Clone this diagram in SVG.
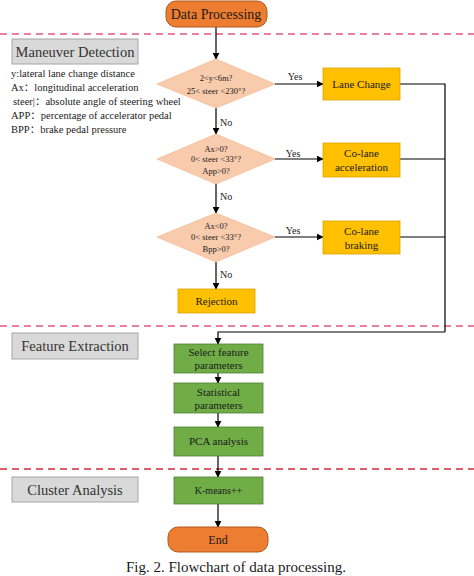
<svg xmlns="http://www.w3.org/2000/svg" width="474" height="576" viewBox="0 0 474 576">
<style>
text{font-family:"Liberation Serif","Times New Roman","Noto Sans CJK SC",serif;fill:#1a1a1a}
.c{text-anchor:middle}
.sec{fill:#d9d9d9;stroke:#a6a6a6;stroke-width:1}
.sect{font-size:14.5px;fill:#333}
.leg{font-size:10.5px}
.dia{fill:#f8cbad;stroke:#f4b183;stroke-width:0.6}
.dt{font-size:8.5px}
.gold{fill:#ffc000;stroke:#d9a300;stroke-width:0.8}
.green{fill:#70ad47;stroke:#507e32;stroke-width:0.8}
.term{fill:#ed7d31;stroke:#ae5a21;stroke-width:1}
.bt{font-size:11px}
.lbl{font-size:10px}
.ln{stroke:#000;stroke-width:1.2;fill:none}
.dash1{stroke:#e8587a;stroke-width:1.5;stroke-dasharray:7,5}
.dash2{stroke:#d42a3a;stroke-width:1.5;stroke-dasharray:7,5}
</style>
<defs>
<marker id="ah" viewBox="0 0 10 10" refX="9" refY="5" markerWidth="7" markerHeight="7" markerUnits="userSpaceOnUse" orient="auto">
<path d="M0,0 L10,5 L0,10 z" fill="#000"/>
</marker>
</defs>
<rect width="474" height="576" fill="#fff"/>

<g id="separators">
<line class="dash1" x1="0" y1="34" x2="474" y2="34"/>
<line class="dash1" x1="0" y1="326" x2="474" y2="326"/>
<line class="dash2" x1="0" y1="469" x2="474" y2="469"/>
</g>

<g id="connectors">
<line class="ln" x1="216" y1="27" x2="216" y2="59" marker-end="url(#ah)"/>
<line class="ln" x1="275" y1="84" x2="323" y2="84" marker-end="url(#ah)"/>
<line class="ln" x1="216" y1="108" x2="216" y2="134" marker-end="url(#ah)"/>
<line class="ln" x1="275" y1="159" x2="323" y2="159" marker-end="url(#ah)"/>
<line class="ln" x1="216" y1="184" x2="216" y2="213" marker-end="url(#ah)"/>
<line class="ln" x1="275" y1="237" x2="323" y2="237" marker-end="url(#ah)"/>
<line class="ln" x1="216" y1="262" x2="216" y2="289" marker-end="url(#ah)"/>
<polyline class="ln" points="400,84 445,84 445,332"/>
<line class="ln" x1="400" y1="159" x2="445" y2="159"/>
<line class="ln" x1="400" y1="237" x2="445" y2="237"/>
<polyline class="ln" points="445,332 218,332 218,344" marker-end="url(#ah)"/>
<line class="ln" x1="218" y1="373" x2="218" y2="383" marker-end="url(#ah)"/>
<line class="ln" x1="218" y1="413" x2="218" y2="427" marker-end="url(#ah)"/>
<line class="ln" x1="218" y1="456" x2="218" y2="477" marker-end="url(#ah)"/>
<line class="ln" x1="218" y1="504" x2="218" y2="527" marker-end="url(#ah)"/>
<text class="lbl" x="295" y="80" text-anchor="middle">Yes</text>
<text class="lbl" x="293" y="157" text-anchor="middle">Yes</text>
<text class="lbl" x="293" y="234" text-anchor="middle">Yes</text>
<text class="lbl" x="220" y="126">No</text>
<text class="lbl" x="220" y="200">No</text>
<text class="lbl" x="220" y="278">No</text>
</g>

<g id="start">
<rect class="term" x="166" y="1" width="101" height="26" rx="10"/>
<text class="c" x="216" y="19" font-size="14px">Data Processing</text>
</g>

<g id="sec-maneuver">
<rect class="sec" x="12" y="39" width="126" height="25"/>
<text class="c sect" x="75" y="57">Maneuver Detection</text>
</g>

<g id="legend">
<text class="leg" x="11" y="77">y:lateral lane change distance</text>
<text class="leg" x="11" y="91">Ax：longitudinal acceleration</text>
<text class="leg" x="13" y="105">steer|：absolute angle of steering wheel</text>
<text class="leg" x="11" y="119">APP：percentage of accelerator pedal</text>
<text class="leg" x="11" y="133">BPP：brake pedal pressure</text>
</g>

<g id="d1">
<polygon class="dia" points="216,59 275,84 216,108 157,84"/>
<text class="c dt" x="216" y="81">2&lt;y&lt;6m?</text>
<text class="c dt" x="216" y="94">25&lt; steer &lt;230°?</text>
</g>

<g id="lane-change">
<rect class="gold" x="323" y="68" width="77" height="32"/>
<text class="c bt" x="361.5" y="88">Lane Change</text>
</g>

<g id="d2">
<polygon class="dia" points="216,134 275,159 216,184 157,159"/>
<text class="c dt" x="216" y="152">Ax&gt;0?</text>
<text class="c dt" x="216" y="162">0&lt; steer &lt;33°?</text>
<text class="c dt" x="216" y="174">App&gt;0?</text>
</g>

<g id="co-acc">
<rect class="gold" x="323" y="143" width="77" height="34"/>
<text class="c bt" x="361.5" y="157">Co-lane</text>
<text class="c bt" x="361.5" y="171">acceleration</text>
</g>

<g id="d3">
<polygon class="dia" points="216,213 275,237 216,262 157,237"/>
<text class="c dt" x="216" y="229">Ax&lt;0?</text>
<text class="c dt" x="216" y="240">0&lt; steer &lt;33°?</text>
<text class="c dt" x="216" y="252">Bpp&gt;0?</text>
</g>

<g id="co-brake">
<rect class="gold" x="323" y="221" width="77" height="33"/>
<text class="c bt" x="361.5" y="235">Co-lane</text>
<text class="c bt" x="361.5" y="249">braking</text>
</g>

<g id="rejection">
<rect class="gold" x="178" y="289" width="77" height="24"/>
<text class="c bt" x="216.5" y="305">Rejection</text>
</g>

<g id="sec-feature">
<rect class="sec" x="12" y="333" width="126" height="26"/>
<text class="c sect" x="75" y="351">Feature Extraction</text>
</g>

<g id="select">
<rect class="green" x="174" y="344" width="89" height="29"/>
<text class="c bt" x="218.5" y="356">Select feature</text>
<text class="c bt" x="218.5" y="369">parameters</text>
</g>

<g id="stat">
<rect class="green" x="174" y="383" width="89" height="30"/>
<text class="c bt" x="218.5" y="396">Statistical</text>
<text class="c bt" x="218.5" y="409">parameters</text>
</g>

<g id="pca">
<rect class="green" x="174" y="427" width="89" height="29"/>
<text class="c bt" x="218.5" y="445">PCA analysis</text>
</g>

<g id="sec-cluster">
<rect class="sec" x="12" y="477" width="126" height="25"/>
<text class="c sect" x="75" y="495">Cluster Analysis</text>
</g>

<g id="kmeans">
<rect class="green" x="174" y="477" width="89" height="27"/>
<text class="c" x="218.5" y="494" font-size="10px">K-means++</text>
</g>

<g id="end">
<rect class="term" x="168" y="527" width="100" height="25" rx="10"/>
<text class="c" x="218" y="544" font-size="12px">End</text>
</g>

<text class="c" x="236" y="572" font-size="15px">Fig. 2. Flowchart of data processing.</text>
</svg>
